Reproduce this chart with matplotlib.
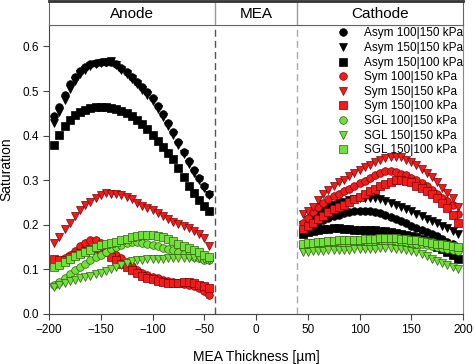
import matplotlib.pyplot as plt
import numpy as np

# x positions (um)
x_anode = list(range(-195, -40, 5))
x_cathode = list(range(45, 200, 5))

# saturation values, anode side
asym_100_150_a = [0.445, 0.465, 0.492, 0.515, 0.532, 0.545, 0.553, 0.560, 0.563, 0.565, 0.566,
                  0.566, 0.560, 0.552, 0.543, 0.532, 0.520, 0.508, 0.497, 0.484, 0.466, 0.448,
                  0.428, 0.408, 0.386, 0.364, 0.342, 0.322, 0.305, 0.287, 0.270]
asym_150_150_a = [0.428, 0.452, 0.480, 0.504, 0.523, 0.538, 0.548, 0.556, 0.560, 0.562, 0.564,
                  0.568, 0.558, 0.548, 0.538, 0.527, 0.515, 0.503, 0.491, 0.478, 0.460, 0.442,
                  0.422, 0.402, 0.380, 0.358, 0.337, 0.317, 0.300, 0.283, 0.266]
asym_150_100_a = [0.378, 0.402, 0.421, 0.436, 0.446, 0.452, 0.457, 0.461, 0.464, 0.465, 0.464,
                  0.462, 0.459, 0.455, 0.450, 0.444, 0.436, 0.426, 0.414, 0.402, 0.389, 0.375,
                  0.361, 0.347, 0.327, 0.307, 0.288, 0.272, 0.256, 0.242, 0.230]
sym_100_150_a = [0.113, 0.118, 0.125, 0.133, 0.142, 0.152, 0.160, 0.165, 0.165, 0.160, 0.150,
                 0.141, 0.133, 0.126, 0.117, 0.107, 0.099, 0.093, 0.088, 0.083, 0.080, 0.077,
                 0.074, 0.072, 0.070, 0.068, 0.066, 0.063, 0.058, 0.051, 0.043]
sym_150_150_a = [0.160, 0.172, 0.190, 0.205, 0.220, 0.233, 0.244, 0.252, 0.259, 0.266, 0.271,
                 0.270, 0.268, 0.266, 0.262, 0.257, 0.250, 0.243, 0.238, 0.233, 0.227, 0.220,
                 0.213, 0.207, 0.202, 0.197, 0.192, 0.187, 0.180, 0.170, 0.152]
sym_150_100_a = [0.124, 0.120, 0.122, 0.127, 0.132, 0.137, 0.142, 0.146, 0.147, 0.146, 0.138,
                 0.128, 0.120, 0.113, 0.106, 0.099, 0.091, 0.085, 0.081, 0.078, 0.075, 0.072,
                 0.070, 0.069, 0.070, 0.071, 0.072, 0.069, 0.065, 0.062, 0.058]
sgl_100_150_a = [0.064, 0.072, 0.081, 0.090, 0.098, 0.105, 0.113, 0.120, 0.127, 0.133, 0.139,
                 0.145, 0.150, 0.155, 0.159, 0.161, 0.161, 0.160, 0.158, 0.155, 0.152, 0.149,
                 0.146, 0.143, 0.139, 0.135, 0.132, 0.128, 0.125, 0.122, 0.120]
sgl_150_150_a = [0.060, 0.064, 0.069, 0.073, 0.077, 0.080, 0.083, 0.086, 0.089, 0.092, 0.096,
                 0.100, 0.105, 0.110, 0.114, 0.118, 0.120, 0.122, 0.123, 0.123, 0.124, 0.124,
                 0.125, 0.125, 0.125, 0.126, 0.126, 0.126, 0.125, 0.124, 0.122]
sgl_150_100_a = [0.105, 0.110, 0.117, 0.124, 0.130, 0.134, 0.139, 0.144, 0.150, 0.154, 0.157,
                 0.160, 0.162, 0.165, 0.169, 0.172, 0.175, 0.177, 0.178, 0.178, 0.175, 0.172,
                 0.168, 0.163, 0.158, 0.153, 0.148, 0.143, 0.138, 0.133, 0.128]

# saturation values, cathode side
asym_100_150_c = [0.190, 0.196, 0.201, 0.206, 0.211, 0.215, 0.219, 0.223, 0.226, 0.229, 0.231,
                  0.232, 0.232, 0.231, 0.229, 0.226, 0.222, 0.218, 0.213, 0.208, 0.203, 0.198,
                  0.193, 0.189, 0.184, 0.179, 0.174, 0.168, 0.162, 0.156, 0.148]
asym_150_150_c = [0.200, 0.210, 0.219, 0.227, 0.234, 0.240, 0.245, 0.249, 0.252, 0.255, 0.257,
                  0.259, 0.260, 0.260, 0.259, 0.257, 0.254, 0.250, 0.245, 0.240, 0.235, 0.230,
                  0.225, 0.219, 0.214, 0.208, 0.203, 0.198, 0.192, 0.186, 0.180]
asym_150_100_c = [0.180, 0.184, 0.187, 0.189, 0.190, 0.191, 0.192, 0.192, 0.191, 0.190, 0.189,
                  0.189, 0.189, 0.188, 0.188, 0.187, 0.186, 0.184, 0.182, 0.180, 0.178, 0.175,
                  0.172, 0.168, 0.163, 0.157, 0.151, 0.145, 0.139, 0.132, 0.124]
sym_100_150_c = [0.205, 0.215, 0.228, 0.240, 0.249, 0.257, 0.264, 0.270, 0.276, 0.281, 0.287,
                 0.293, 0.299, 0.305, 0.311, 0.317, 0.321, 0.321, 0.319, 0.315, 0.311, 0.306,
                 0.300, 0.294, 0.287, 0.278, 0.269, 0.260, 0.253, 0.245, 0.225]
sym_150_150_c = [0.225, 0.230, 0.240, 0.255, 0.268, 0.279, 0.288, 0.295, 0.301, 0.309, 0.317,
                 0.323, 0.329, 0.334, 0.340, 0.346, 0.349, 0.351, 0.353, 0.352, 0.346, 0.340,
                 0.333, 0.326, 0.317, 0.307, 0.295, 0.283, 0.272, 0.260, 0.240]
sym_150_100_c = [0.190, 0.197, 0.205, 0.213, 0.220, 0.228, 0.235, 0.240, 0.245, 0.251, 0.257,
                 0.263, 0.269, 0.275, 0.281, 0.287, 0.292, 0.297, 0.300, 0.301, 0.299, 0.295,
                 0.288, 0.282, 0.275, 0.268, 0.261, 0.250, 0.237, 0.222, 0.205]
sgl_100_150_c = [0.150, 0.151, 0.152, 0.153, 0.154, 0.155, 0.156, 0.157, 0.158, 0.158, 0.159,
                 0.159, 0.160, 0.160, 0.161, 0.162, 0.162, 0.162, 0.162, 0.161, 0.160, 0.159,
                 0.158, 0.156, 0.154, 0.152, 0.150, 0.148, 0.146, 0.144, 0.142]
sgl_150_150_c = [0.138, 0.140, 0.141, 0.142, 0.142, 0.143, 0.143, 0.143, 0.144, 0.144, 0.145,
                 0.145, 0.145, 0.146, 0.146, 0.147, 0.147, 0.147, 0.146, 0.145, 0.143, 0.141,
                 0.138, 0.134, 0.129, 0.124, 0.119, 0.114, 0.110, 0.106, 0.102]
sgl_150_100_c = [0.157, 0.159, 0.160, 0.161, 0.162, 0.163, 0.164, 0.165, 0.166, 0.166, 0.167,
                 0.167, 0.168, 0.168, 0.169, 0.170, 0.170, 0.170, 0.170, 0.169, 0.168, 0.167,
                 0.166, 0.164, 0.162, 0.160, 0.158, 0.156, 0.154, 0.152, 0.150]

labels = ["Asym 100|150 kPa", "Asym 150|150 kPa", "Asym 150|100 kPa",
          "Sym 100|150 kPa", "Sym 150|150 kPa", "Sym 150|100 kPa",
          "SGL 100|150 kPa", "SGL 150|150 kPa", "SGL 150|100 kPa"]
anode = [asym_100_150_a, asym_150_150_a, asym_150_100_a,
         sym_100_150_a, sym_150_150_a, sym_150_100_a,
         sgl_100_150_a, sgl_150_150_a, sgl_150_100_a]
cathode = [asym_100_150_c, asym_150_150_c, asym_150_100_c,
           sym_100_150_c, sym_150_150_c, sym_150_100_c,
           sgl_100_150_c, sgl_150_150_c, sgl_150_100_c]

markers = ["o", "v", "s"] * 3
faces = ["black"] * 3 + ["#ee1c1c"] * 3 + ["#72e03a"] * 3
edges = ["black"] * 3 + ["#7a0000"] * 3 + ["#2d6010"] * 3

plt.rcParams['font.family'] = ['Liberation Sans', 'DejaVu Sans']

fig = plt.figure(figsize=(4.74, 3.64), dpi=100)
ax = fig.add_axes([49 / 474, 50 / 364, 414 / 474, 289 / 364])
hdr = fig.add_axes([49 / 474, 339 / 364, 414 / 474, 24 / 364])

x_all = x_anode + [np.nan] + x_cathode
for i in range(len(labels)):
    y_all = anode[i] + [np.nan] + cathode[i]
    ax.plot(x_all, y_all, linestyle="none", marker=markers[i], ms=5.5,
            mfc=faces[i], mec=edges[i], mew=0.5, label=labels[i])

ax.axvline(-40, color="#555555", ls=(0, (5, 3)), lw=1)
ax.axvline(40, color="#aaaaaa", ls=(0, (5, 3)), lw=1)

ax.set_xlim(-200, 200)
ax.set_ylim(0, 0.648)
ax.set_xticks(np.arange(-200, 201, 50))
ax.set_yticks(np.arange(0, 0.61, 0.1))
ax.set_yticklabels(["0.0", "0.1", "0.2", "0.3", "0.4", "0.5", "0.6"])
ax.tick_params(labelsize=8.5, direction="out", length=4, color="#444444")
ax.set_xlabel("MEA Thickness [\u00b5m]", fontsize=10, labelpad=10)
ax.set_ylabel("Saturation", fontsize=10, labelpad=6)
for s in ["top", "right"]:
    ax.spines[s].set_color("#888888")
ax.spines["left"].set_color("#444444")
ax.spines["bottom"].set_color("#444444")

ax.legend(loc="upper right", frameon=False, fontsize=8.5, labelspacing=0.22,
          handletextpad=1.3, borderaxespad=0.3, handlelength=1.0,
          bbox_to_anchor=(1.021, 1.02))

hdr.set_xlim(-200, 200)
hdr.set_ylim(0, 1)
hdr.set_xticks([])
hdr.set_yticks([])
hdr.axvline(-40, color="#999999", lw=1)
hdr.axvline(40, color="#999999", lw=1)
hdr.text(-120, 0.45, "Anode", ha="center", va="center", fontsize=11)
hdr.text(0, 0.45, "MEA", ha="center", va="center", fontsize=11)
hdr.text(120, 0.45, "Cathode", ha="center", va="center", fontsize=11)
hdr.spines["top"].set_linewidth(2)
hdr.spines["top"].set_color("#333333")
for s in ["left", "right", "bottom"]:
    hdr.spines[s].set_color("#666666")

fig.savefig("out.png", dpi=100)
